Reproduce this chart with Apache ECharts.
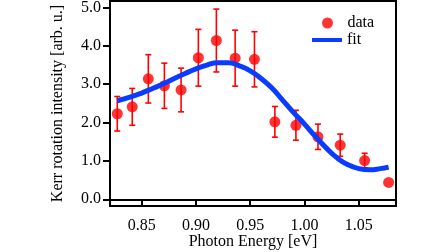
<!DOCTYPE html>
<html>
<head>
<meta charset="utf-8">
<script src="https://cdn.jsdelivr.net/npm/echarts@6/dist/echarts.min.js"></script>
<style>
  html, body { margin: 0; padding: 0; background: #fff; }
  #chart { width: 448px; height: 252px; }
</style>
</head>
<body>
<div id="chart"></div>
<script>
// measured points (eV, arb. u.) and their error bars
var energy    = [0.8275, 0.8413, 0.8561, 0.8709, 0.8863, 0.9022, 0.9188, 0.9361, 0.9539, 0.9727, 0.9921, 1.0124, 1.0329, 1.0554, 1.0775];
var intensity = [2.23, 2.41, 3.14, 2.96, 2.85, 3.69, 4.14, 3.68, 3.65, 2.02, 1.93, 1.63, 1.41, 1.01, 0.44];
var yErr      = [0.45, 0.48, 0.63, 0.59, 0.57, 0.74, 0.82, 0.73, 0.72, 0.40, 0.39, 0.33, 0.29, 0.19, 0];

// fit curve
var fitEnergy    = [0.8275, 0.84, 0.85, 0.86, 0.87, 0.88, 0.89, 0.90, 0.91, 0.92, 0.93, 0.94, 0.95, 0.96, 0.97, 0.98, 0.99, 1.00, 1.01, 1.02, 1.03, 1.04, 1.05, 1.06, 1.07, 1.0775];
var fitIntensity = [2.57, 2.67, 2.77, 2.89, 3.01, 3.15, 3.28, 3.40, 3.50, 3.56, 3.56, 3.48, 3.35, 3.15, 2.90, 2.58, 2.26, 1.96, 1.64, 1.34, 1.08, 0.90, 0.80, 0.77, 0.80, 0.84];

// tick labels
var xTicks = [0.85, 0.90, 0.95, 1.00, 1.05];
var yTicks = [0, 1, 2, 3, 4, 5];

var font = 'Liberation Serif';
var red = '#ff0000';
var blue = '#0a3cff';

var chart = echarts.init(document.getElementById('chart'));

var pts = energy.map(function (x, i) { return [x, intensity[i], yErr[i]]; });
var fitPts = fitEnergy.map(function (x, i) { return [x, fitIntensity[i]]; });

chart.setOption({
  animation: false,
  grid: {
    left: 110, top: 1, right: 52, bottom: 46,
    outerBoundsMode: 'none',
    show: true, borderColor: '#000', borderWidth: 2
  },
  legend: [{
    data: [{ name: 'data', icon: 'circle' }],
    left: 322, top: 15, padding: 0,
    itemWidth: 30, itemHeight: 11,
    textStyle: { fontFamily: font, fontSize: 16, color: '#000' }
  }, {
    data: [{ name: 'fit', icon: 'rect' }],
    left: 312, top: 32, padding: 0,
    itemWidth: 30, itemHeight: 4,
    textStyle: { fontFamily: font, fontSize: 16, color: '#000' }
  }],
  xAxis: {
    type: 'value',
    min: 0.8208, max: 1.0843,
    name: 'Photon Energy [eV]',
    nameLocation: 'middle', nameGap: 28,
    nameMoveOverlap: false,
    nameTextStyle: { fontFamily: font, fontSize: 16, color: '#000' },
    splitLine: { show: false },
    axisLine: { lineStyle: { color: '#000', width: 2 } },
    axisTick: { customValues: xTicks, length: 7, lineStyle: { width: 2 } },
    axisLabel: {
      customValues: xTicks, margin: 12,
      fontFamily: font, fontSize: 16, color: '#000',
      formatter: function (v) { return v.toFixed(2); }
    }
  },
  yAxis: {
    type: 'value',
    min: -0.175, max: 5.17,
    name: 'Kerr rotation intensity [arb. u.]',
    nameLocation: 'middle', nameGap: 44,
    nameMoveOverlap: false,
    nameTextStyle: { fontFamily: font, fontSize: 16, color: '#000' },
    splitLine: { show: false },
    axisLine: { lineStyle: { color: '#000', width: 2 } },
    axisTick: { customValues: yTicks, length: 7, lineStyle: { width: 2 } },
    axisLabel: {
      customValues: yTicks, margin: 9,
      fontFamily: font, fontSize: 16, color: '#000',
      formatter: function (v) { return v.toFixed(1); }
    }
  },
  series: [{
    type: 'custom',
    name: 'err',
    data: pts,
    encode: { x: 0, y: 1 },
    z: 2,
    renderItem: function (params, api) {
      var x = api.value(0), y = api.value(1), e = api.value(2);
      if (!e) return;
      var hi = api.coord([x, y + e]);
      var lo = api.coord([x, y - e]);
      var st = { stroke: red, lineWidth: 1.6 };
      return {
        type: 'group',
        children: [
          { type: 'line', shape: { x1: hi[0], y1: hi[1], x2: lo[0], y2: lo[1] }, style: st },
          { type: 'line', shape: { x1: hi[0] - 3, y1: hi[1], x2: hi[0] + 3, y2: hi[1] }, style: st },
          { type: 'line', shape: { x1: lo[0] - 3, y1: lo[1], x2: lo[0] + 3, y2: lo[1] }, style: st }
        ]
      };
    }
  }, {
    type: 'scatter',
    name: 'data',
    data: pts,
    symbol: 'circle',
    symbolSize: 11,
    itemStyle: { color: red },
    z: 3
  }, {
    type: 'line',
    name: 'fit',
    data: fitPts,
    smooth: true,
    showSymbol: false,
    symbol: 'none',
    lineStyle: { color: blue, width: 5 },
    itemStyle: { color: blue },
    z: 4
  }]
});
</script>
</body>
</html>
